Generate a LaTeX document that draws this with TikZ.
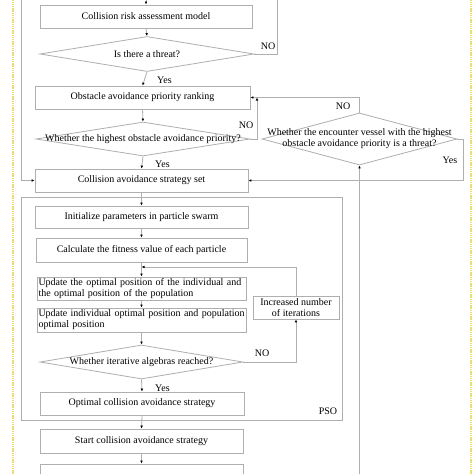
\documentclass[tikz,border=0pt]{standalone}
\usepackage{fontspec}
\setmainfont{Liberation Serif}
\usetikzlibrary{shapes.geometric,arrows.meta}
\definecolor{linegray}{RGB}{175,175,175}
\definecolor{dotyellow}{RGB}{238,220,110}
\begin{document}
\begin{tikzpicture}[x=1pt,y=-1pt,
  font=\fontsize{10}{11}\selectfont,
  line/.style={draw=linegray, line width=0.8pt},
  box/.style={line, rectangle, inner sep=1pt},
  dia/.style={line, diamond, inner sep=0pt},
  arr/.style={line, -{Latex[length=3pt,width=2.6pt,color=black]}},
  lbl/.style={inner sep=0pt},
  yline/.style={draw=dotyellow, line width=1.4pt, dash pattern=on 1.4pt off 0.8pt}
]
\fill[white] (0,0) rectangle (474,474);
\useasboundingbox (0,0) rectangle (474,474);
\clip (0,0) rectangle (474,474);

% yellow dotted frame
\draw[yline] (13,-5) -- (13,480);
\draw[yline] (471,-5) -- (471,480);

% PSO frame
\draw[line] (21,197) rectangle (342,420);
\node[lbl] (pso) at (328,411) {PSO};

% nodes
\node[box, minimum width=212pt, minimum height=23pt] (b1) at (146,16.5) {Collision risk assessment model};
\node[dia, minimum width=214pt, minimum height=35pt] (d1) at (147,54) {};
\node[lbl] (d1t) at (d1.center) {Is there a threat?};
\node[box, minimum width=215pt, minimum height=23pt] (b2) at (142.5,97.5) {Obstacle avoidance priority ranking};
\node[dia, minimum width=214pt, minimum height=34pt] (d2) at (143,139) {};
\node[lbl] (d2t) at (d2.center) {Whether the highest obstacle avoidance priority?};
\node[dia, minimum width=195pt, minimum height=52pt] (d3) at (359.5,139) {};
\node[lbl, align=center] (d3t) at (d3.center) {Whether the encounter vessel with the highest\\obstacle avoidance priority is a threat?};
\node[box, minimum width=213pt, minimum height=23pt] (b3) at (141.5,180.5) {Collision avoidance strategy set};
\node[box, minimum width=213pt, minimum height=22pt] (b4) at (141.5,217) {Initialize parameters in particle swarm};
\node[box, minimum width=211pt, minimum height=24pt] (b5) at (141.5,250) {Calculate the fitness value of each particle};
\node[box, minimum width=209pt, minimum height=23pt, text width=206pt, align=left] (b6) at (141.5,288.5) {\makebox[\linewidth][s]{Update the optimal position of the individual and}\\the optimal position of the population};
\node[box, minimum width=209pt, minimum height=24pt, text width=206pt, align=left] (b7) at (141.5,320) {\makebox[\linewidth][s]{Update individual optimal position and population}\\optimal position};
\node[box, minimum width=86pt, minimum height=23pt, align=center] (b8) at (296,307.5) {Increased number\\of iterations};
\node[dia, minimum width=203pt, minimum height=34pt] (d4) at (141.5,362) {};
\node[lbl] (d4t) at (d4.center) {Whether iterative algebras reached?};
\node[box, minimum width=204pt, minimum height=23pt] (b9) at (142,403.5) {Optimal collision avoidance strategy};
\node[box, minimum width=203pt, minimum height=24pt] (b10) at (141.5,441) {Start collision avoidance strategy};
\node[box, minimum width=203pt, minimum height=24pt] (b11) at (141.5,476) {};

% labels
\node[lbl, anchor=west] (y1) at (157,80) {Yes};
\node[lbl] (n1) at (268,46) {NO};
\node[lbl] (n2) at (246,125) {NO};
\node[lbl] (n3) at (343,106) {NO};
\node[lbl] (y3) at (450,160) {Yes};
\node[lbl, anchor=west] (y2) at (155,164) {Yes};
\node[lbl] (n4) at (262,353) {NO};
\node[lbl, anchor=west] (y4) at (155,388) {Yes};

% coordinates
\coordinate (topin) at (146,-5);
\coordinate (loopL) at (21,-5);
\coordinate (noTop) at (277,-5);
\coordinate (c257) at (257,97.5);
\coordinate (bot) at (359.5,480);
\coordinate (j1) at (141.5,267);

% connectors
\draw[arr] (topin) -- (b1.north);
\draw[arr] (loopL) |- (b3.west);
\draw[line] (d1.east) -| (noTop);
\draw[arr] (b1.south) -- (d1.north);
\draw[arr] (d1.south) -- (b2.north);
\draw[arr] (b2.south) -- (d2.north);
\draw[arr] (d2.east) -| (c257);
\draw[arr] (d3.north) |- (b2.east);
\draw[arr] (d3.east) -- ++(6,0) |- (b3.east);
\draw[arr] (bot) -- (d3.south);
\draw[arr] (d2.south) -- (b3.north);
\draw[arr] (b3.south) -- (b4.north);
\draw[arr] (b4.south) -- (b5.north);
\draw[arr] (b5.south) -- (b6.north);
\draw[arr] (b8.north) |- (j1);
\draw[arr] (b6.south) -- (b7.north);
\draw[arr] (b7.south) -- (d4.north);
\draw[arr] (d4.east) -| (b8.south);
\draw[arr] (d4.south) -- (b9.north);
\draw[arr] (b9.south) -- (b10.north);
\draw[arr] (b10.south) -- (b11.north);
\end{tikzpicture}
\end{document}
